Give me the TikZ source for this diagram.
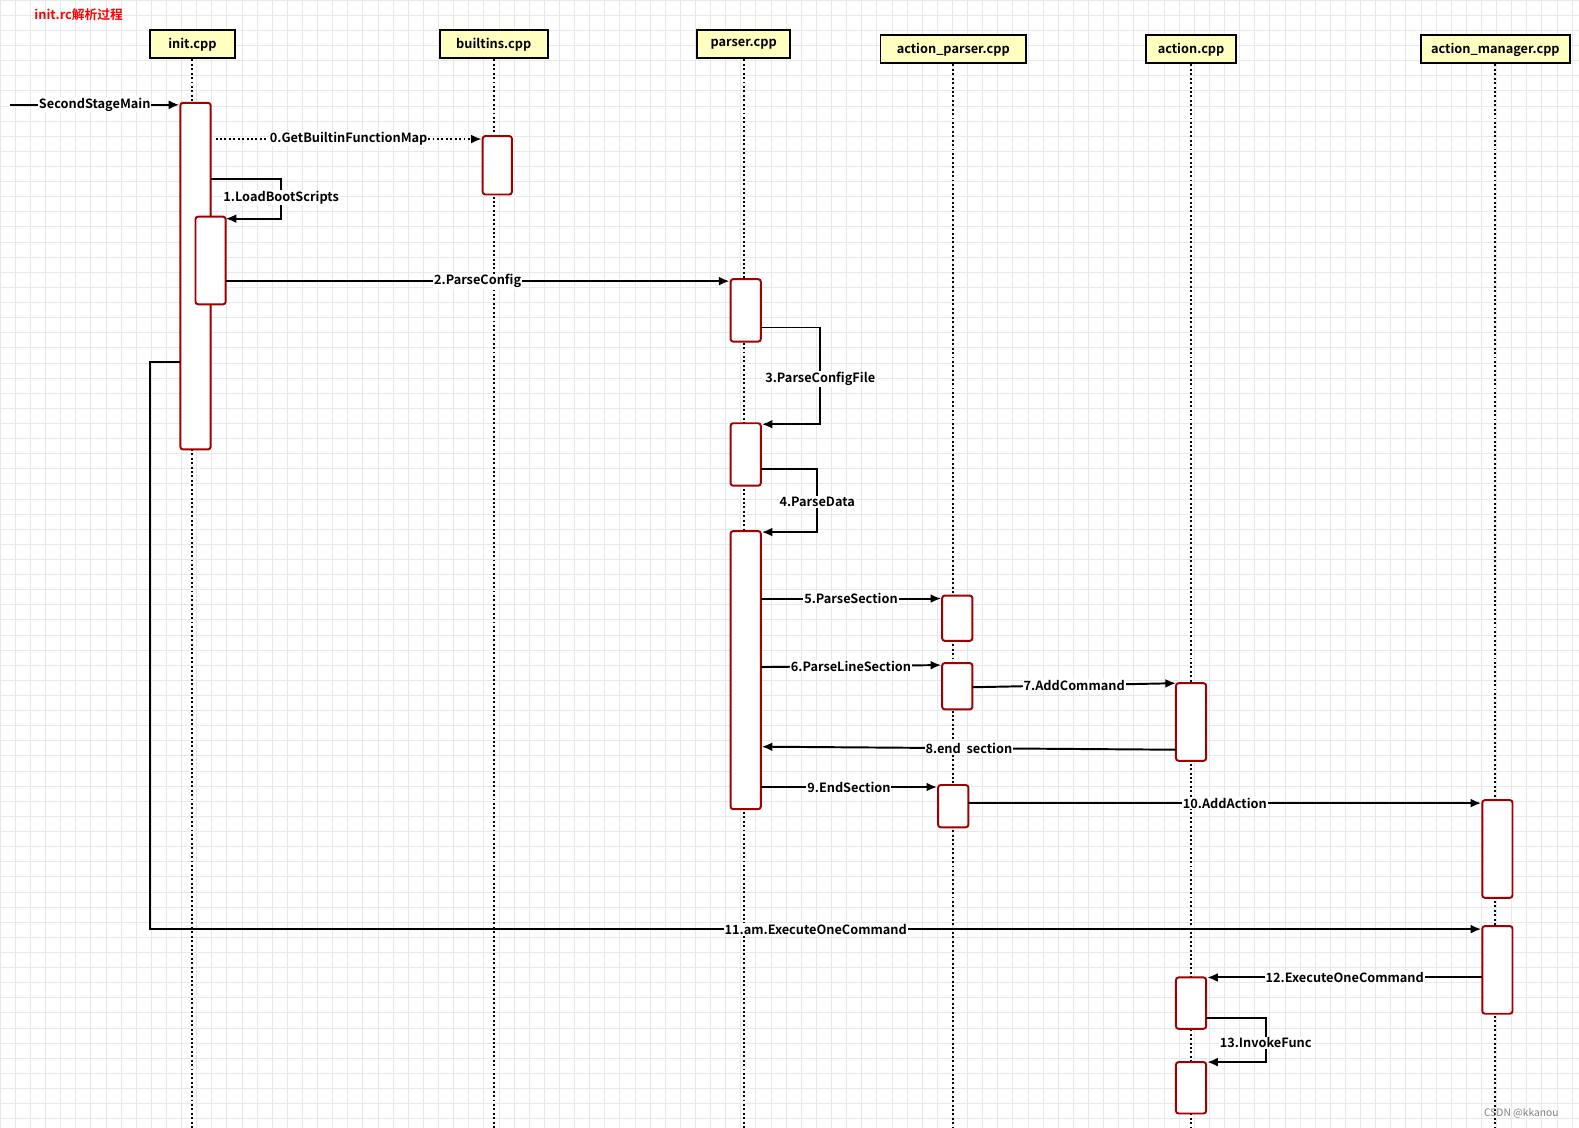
\documentclass[tikz,border=0pt]{standalone}
\usepackage{fontspec}
\setmainfont{Noto Sans CJK SC}[BoldFont={Noto Sans CJK SC Bold}]
\usetikzlibrary{arrows.meta}
\definecolor{hdr}{HTML}{FFFFC0}
\definecolor{act}{HTML}{A00000}
\definecolor{gridc}{HTML}{E8E8E8}
\tikzset{
  hbox/.style={draw=black,fill=hdr,line width=1.1pt,minimum height=15.9pt,inner sep=0pt,font=\fontsize{7.2}{8}\selectfont\bfseries},
  actbox/.style={draw=act,fill=white,line width=1.1pt,rounded corners=1.5pt},
  life/.style={line width=1.1pt,dash pattern=on 1.1pt off 1.4pt},
  msg/.style={line width=1.1pt,-{Latex[length=6pt,width=5pt]}},
  dmsg/.style={msg,dash pattern=on 1.1pt off 1.4pt},
  lbl/.style={fill=white,inner sep=0.5pt,font=\fontsize{7.2}{8}\selectfont\bfseries}
}
\begin{document}
\begin{tikzpicture}[x=0.02cm,y=-0.02cm]
\useasboundingbox (0,0) rectangle (1567,1119.4);
\fill[white] (0,0) rectangle (1567,1119.4);
\foreach \x in {0,15,...,1567}{\draw[gridc,line width=0.3pt] (\x,0)--(\x,1119.4);}
\foreach \y in {0,15,...,1119}{\draw[gridc,line width=0.3pt] (0,\y)--(1567,\y);}
\node[text=red,font=\fontsize{7.2}{8}\selectfont\bfseries,anchor=west] (title) at (28,15) {init.rc解析过程};
% headers
\node[hbox,minimum width=85*0.567pt] (hinit) at (191,44) {init.cpp};
\node[hbox,minimum width=108*0.567pt] (hbuilt) at (490,44) {builtins.cpp};
\node[hbox,minimum width=93*0.567pt] (hpars) at (738,44) {parser.cpp};
\node[hbox,minimum width=145*0.567pt] (hap) at (946,49) {action\_parser.cpp};
\node[hbox,minimum width=90*0.567pt] (hact) at (1182,49) {action.cpp};
\node[hbox,minimum width=149*0.567pt] (ham) at (1484,49) {action\_manager.cpp};
% lifelines
\coordinate (einit) at (191,1119.4); \coordinate (ebuilt) at (490,1119.4);
\coordinate (epars) at (738,1119.4); \coordinate (eap) at (946,1119.4);
\coordinate (eact) at (1182,1119.4); \coordinate (eam) at (1484,1119.4);
\draw[life] (hinit) -- (einit);
\draw[life] (hbuilt) -- (ebuilt);
\draw[life] (hpars) -- (epars);
\draw[life] (hap) -- (eap);
\draw[life] (hact) -- (eact);
\draw[life] (ham) -- (eam);
% activations
\draw[actbox] (179,102) rectangle (209,446);
\draw[actbox] (194,215) rectangle (224,302);
\draw[actbox] (479,135) rectangle (508,193);
\draw[actbox] (725,277) rectangle (755,339);
\draw[actbox] (725,420) rectangle (755,482);
\draw[actbox] (725,527) rectangle (755,803);
\draw[actbox] (935,591) rectangle (965,636);
\draw[actbox] (935,658) rectangle (965,704);
\draw[actbox] (931,779) rectangle (961,821);
\draw[actbox] (1167,678) rectangle (1197,755);
\draw[actbox] (1167,970) rectangle (1197,1021);
\draw[actbox] (1167,1054) rectangle (1197,1105);
\draw[actbox] (1471,794) rectangle (1501,891);
\draw[actbox] (1471,919) rectangle (1501,1006);
% messages
\coordinate (s0) at (10,104);
\draw[msg] (s0) -- node[lbl,pos=0.5]{SecondStageMain} (178,104);
\draw[dmsg] (214,138) -- node[lbl,pos=0.5]{0.GetBuiltinFunctionMap} (478,138);
\draw[msg] (209,178) -| (279,196) node[lbl]{1.LoadBootScripts} |- (224,217);
\draw[msg] (224,279) -- node[lbl]{2.ParseConfig} (724,279);
\draw[msg] (755,325) -| (814,376) node[lbl]{3.ParseConfigFile} |- (756,421);
\draw[msg] (755,465) -| (811,498) node[lbl]{4.ParseData} |- (756,528);
\draw[msg] (755,594) -- node[lbl]{5.ParseSection} (934,594);
\draw[msg] (755,662) -- node[lbl]{6.ParseLineSection} (934,660);
\draw[msg] (965,682) -- node[lbl]{7.AddCommand} (1167,678);
\draw[msg] (1167,744) -- node[lbl]{8.end\ \ section} (756,741);
\draw[msg] (755,781) -- node[lbl]{9.EndSection} (930,781);
\draw[msg] (961,797) -- node[lbl]{10.AddAction} (1470,797);
\draw[msg] (179,359) -- (149,359) |- node[lbl,pos=0.75]{11.am.ExecuteOneCommand} (1470,922);
\draw[msg] (1471,970) -- node[lbl]{12.ExecuteOneCommand} (1198,970);
\draw[msg] (1197,1010) -| (1256,1035) node[lbl]{13.InvokeFunc} |- (1198,1054);
\node[text=gray,font=\fontsize{5.8}{6}\selectfont,anchor=east] (csdn) at (1553,1105) {CSDN @kkanou};
\end{tikzpicture}
\end{document}
